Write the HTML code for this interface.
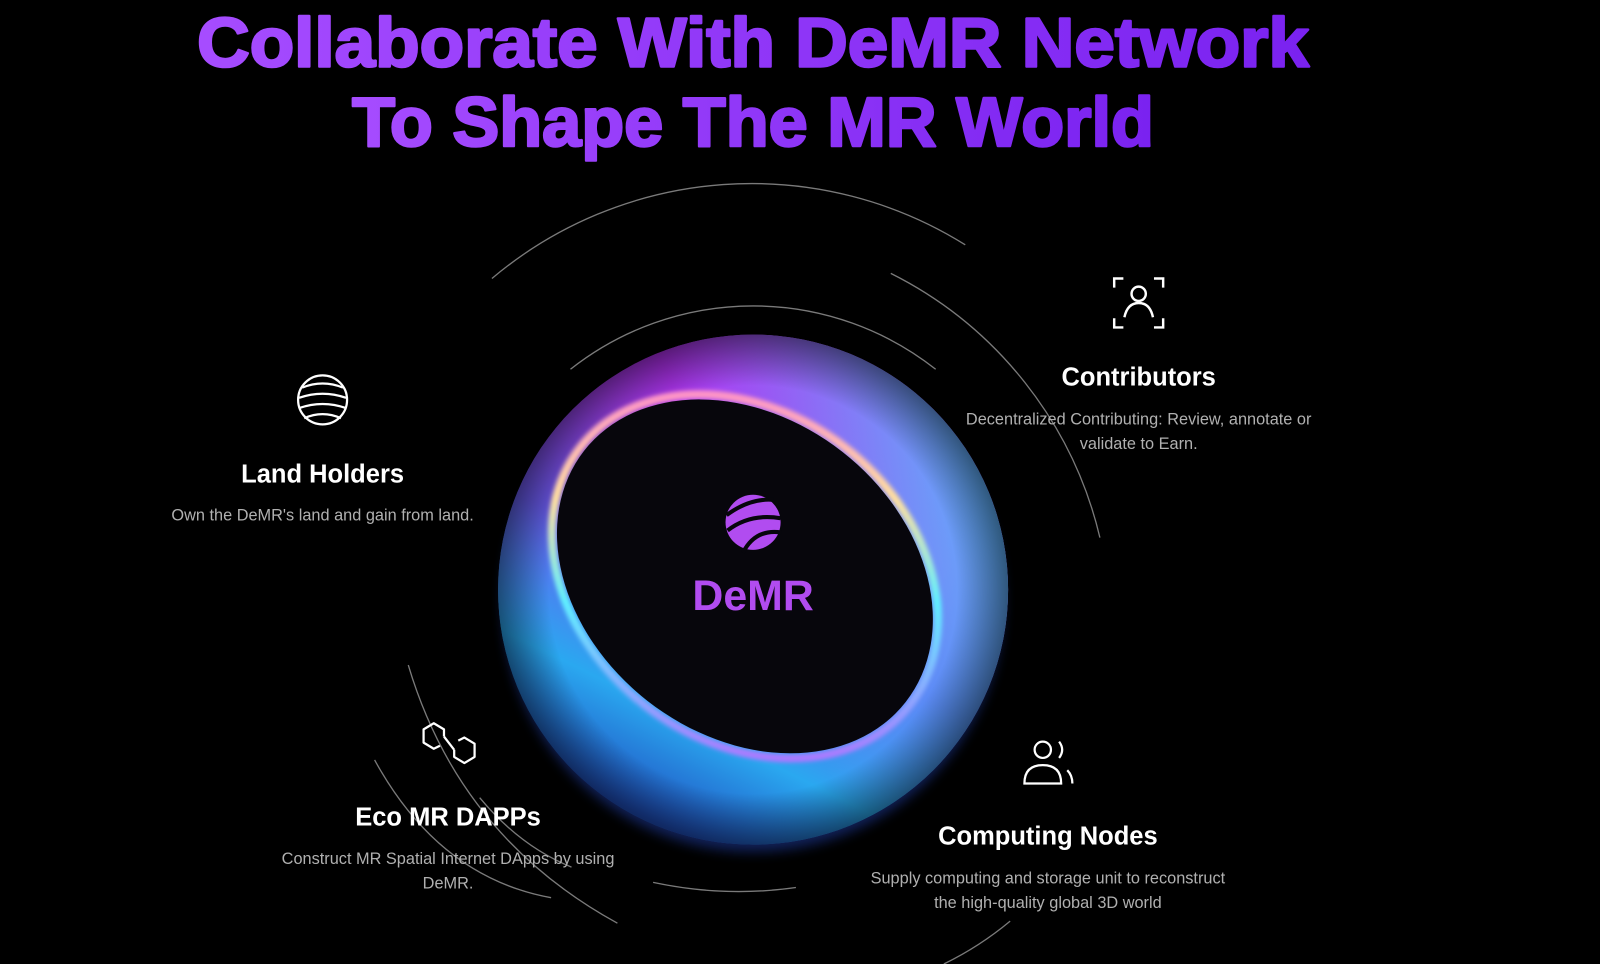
<!DOCTYPE html>
<html><head><meta charset="utf-8"><style>
html,body{margin:0;padding:0;background:#000;width:1600px;height:964px;overflow:hidden}
svg{display:block}
text{font-family:"Liberation Sans",sans-serif}
</style></head><body>
<svg width="1600" height="964" viewBox="0 0 1568 945" xmlns="http://www.w3.org/2000/svg">
<defs>
<linearGradient id="tg" x1="0" y1="0" x2="1" y2="0">
<stop offset="0" stop-color="#a64cff"/><stop offset="1" stop-color="#7a22f0"/>
</linearGradient>
<linearGradient id="sg" x1="0.75" y1="0.05" x2="0.3" y2="0.95">
<stop offset="0" stop-color="#c818f0"/><stop offset="0.3" stop-color="#a63ef0"/>
<stop offset="0.55" stop-color="#6a5cf0"/><stop offset="0.8" stop-color="#2aa8f0"/><stop offset="1" stop-color="#2050c0"/>
</linearGradient>
<linearGradient id="rg" x1="1" y1="0.3" x2="0" y2="0.7">
<stop offset="0" stop-color="#40e0ff" stop-opacity="0.8"/><stop offset="0.5" stop-color="#40e0ff" stop-opacity="0"/>
</linearGradient>
<radialGradient id="shade" cx="0.5" cy="0.5" r="0.5">
<stop offset="0.8" stop-color="#000" stop-opacity="0"/><stop offset="1" stop-color="#000" stop-opacity="0.5"/>
</radialGradient>
<linearGradient id="rim" x1="0" y1="0" x2="1" y2="1">
<stop offset="0" stop-color="#ff60e0"/><stop offset="0.35" stop-color="#ffe0a0"/><stop offset="0.55" stop-color="#60f0ff"/><stop offset="1" stop-color="#d040ff"/>
</linearGradient>
<filter id="blur"><feGaussianBlur stdDeviation="6"/></filter>
<filter id="blur2"><feGaussianBlur stdDeviation="2"/></filter>
</defs>
<rect width="1568" height="945" fill="#000"/>

<g stroke="url(#tg)" stroke-width="2.5" stroke-linejoin="round">
<text x="738" y="65" text-anchor="middle" font-size="68" font-weight="bold" fill="url(#tg)" textLength="1090" lengthAdjust="spacingAndGlyphs">Collaborate With DeMR Network</text>
<text x="738" y="143" text-anchor="middle" font-size="68" font-weight="bold" fill="url(#tg)" textLength="786" lengthAdjust="spacingAndGlyphs">To Shape The MR World</text>
</g>

<g fill="none" stroke="#7a7a7a" stroke-width="1.3">
<path d="M482 273 A395 395 0 0 1 946 240"/>
<path d="M873 268 A390 390 0 0 1 1078 527"/>
<path d="M559 362 A289 289 0 0 1 917 362"/>
<path d="M400 652 Q450 820 605 905"/>
<path d="M367 745 Q430 860 540 880"/>
<path d="M470 782 Q510 830 560 850"/>
<path d="M640 865 Q710 880 780 870"/>
<path d="M990 903 Q960 928 925 945"/>
</g>

<circle cx="738" cy="590" r="245" fill="#3060ff" opacity="0.35" filter="url(#blur)"/>
<circle cx="738" cy="578" r="250" fill="url(#sg)"/>
<circle cx="738" cy="578" r="250" fill="url(#rg)"/>
<circle cx="738" cy="578" r="250" fill="url(#shade)"/>
<g transform="rotate(38 730 565)">
<ellipse cx="730" cy="565" rx="205" ry="160" fill="none" stroke="url(#rim)" stroke-width="8" filter="url(#blur2)"/>
<ellipse cx="730" cy="565" rx="200" ry="155" fill="#07060c"/>
</g>

<circle cx="738" cy="512" r="27" fill="#b14cf0"/>
<g fill="none" stroke="#07060c" stroke-width="4">
<path d="M712 505 Q735 488 758 490"/>
<path d="M713 520 Q735 503 765 508"/>
<path d="M728 542 Q740 518 766 522"/>
</g>
<text x="738" y="598" text-anchor="middle" font-size="42" font-weight="bold" fill="#b14cf0">DeMR</text>

<g fill="none" stroke="#fff" stroke-width="2.2">
<circle cx="316" cy="392" r="24"/>
<path d="M296 380 Q316 372 336 380 M293 390 Q316 382 339 390 M293 400 Q316 392 339 400 M298 410 Q316 402 334 410"/>
</g>
<text x="316" y="473" text-anchor="middle" font-size="25" font-weight="bold" fill="#fff">Land Holders</text>
<text x="316" y="510" text-anchor="middle" font-size="16" fill="#b0b0b0">Own the DeMR's land and gain from land.</text>

<g fill="none" stroke="#fff" stroke-width="2.4">
<path d="M1092 282 V273 H1101 M1131 273 H1140 V282 M1140 312 V321 H1131 M1101 321 H1092 V312"/>
<circle cx="1116" cy="288" r="7"/>
<path d="M1102 311 Q1105 297 1116 297 Q1127 297 1130 311"/>
</g>
<text x="1116" y="378" text-anchor="middle" font-size="25" font-weight="bold" fill="#fff">Contributors</text>
<text x="1116" y="416" text-anchor="middle" font-size="16" fill="#b0b0b0">Decentralized Contributing: Review,  annotate or</text>
<text x="1116" y="440" text-anchor="middle" font-size="16" fill="#b0b0b0">validate to Earn.</text>

<g fill="none" stroke="#fff" stroke-width="2.2" stroke-linejoin="round">
<path d="M435 722 L435 715 L425 709 L415 715 L415 728 L425 734 L431 731"/>
<path d="M445 735 L445 742 L455 748 L465 742 L465 729 L455 723 L449 726"/>
<path d="M435 722 L445 735"/>
</g>
<text x="439" y="809" text-anchor="middle" font-size="25" font-weight="bold" fill="#fff">Eco MR DAPPs</text>
<text x="439" y="847" text-anchor="middle" font-size="16" fill="#b0b0b0">Construct MR Spatial Internet DApps by using</text>
<text x="439" y="871" text-anchor="middle" font-size="16" fill="#b0b0b0">DeMR.</text>

<g fill="none" stroke="#fff" stroke-width="2.2">
<circle cx="1022" cy="735" r="8"/>
<path d="M1004 768 Q1004 750 1022 750 Q1040 750 1040 768 Z"/>
<path d="M1038 727 Q1044 735 1038 743 M1046 755 Q1051 760 1051 768"/>
</g>
<text x="1027" y="828" text-anchor="middle" font-size="25" font-weight="bold" fill="#fff">Computing Nodes</text>
<text x="1027" y="866" text-anchor="middle" font-size="16" fill="#b0b0b0">Supply computing and storage unit to reconstruct</text>
<text x="1027" y="890" text-anchor="middle" font-size="16" fill="#b0b0b0">the high-quality global 3D world</text>
</svg>
</body></html>
